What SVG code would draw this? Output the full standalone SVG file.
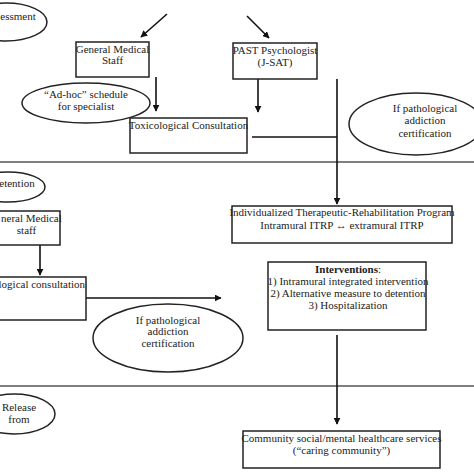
<svg xmlns="http://www.w3.org/2000/svg" width="474" height="474" viewBox="0 0 474 474">
<style>
text{font-family:"Liberation Serif","Times New Roman",serif;font-size:11px;fill:#222;text-anchor:middle}
.box{fill:#fff;stroke:#222;stroke-width:1.5}
.ell{fill:#fff;stroke:#222;stroke-width:1.5}
.ln{fill:none;stroke:#111;stroke-width:1.6}
.sep{fill:none;stroke:#555;stroke-width:1.6}
</style>
<defs>
<marker id="ah" viewBox="0 0 10 10" refX="9" refY="5" markerWidth="7" markerHeight="7" markerUnits="userSpaceOnUse" orient="auto">
<path d="M0,0 L10,5 L0,10 z" fill="#111"/>
</marker>
</defs>
<rect width="474" height="474" fill="#fff"/>
<g id="separators">
<line class="sep" x1="0" y1="162" x2="474" y2="162"/>
<line class="sep" x1="0" y1="386" x2="474" y2="386"/>
</g>
<g id="connectors">
<line class="ln" x1="167" y1="14" x2="141" y2="37" marker-end="url(#ah)"/>
<line class="ln" x1="247" y1="16" x2="269" y2="38" marker-end="url(#ah)"/>
<line class="ln" x1="156" y1="77" x2="156" y2="111" marker-end="url(#ah)"/>
<line class="ln" x1="258" y1="79" x2="258" y2="112" marker-end="url(#ah)"/>
<line class="ln" x1="252" y1="137" x2="337" y2="137"/>
<line class="ln" x1="337" y1="79" x2="337" y2="204" marker-end="url(#ah)"/>
<line class="ln" x1="40" y1="245" x2="40" y2="275" marker-end="url(#ah)"/>
<line class="ln" x1="86" y1="298" x2="221" y2="298" marker-end="url(#ah)"/>
<line class="ln" x1="337" y1="335" x2="337" y2="424" marker-end="url(#ah)"/>
</g>
<g id="assessment">
<ellipse class="ell" cx="6" cy="22" rx="41" ry="19"/>
<text x="18" y="20">essment</text>
</g>
<g id="gms-top">
<rect class="box" x="76" y="42" width="73" height="35"/>
<text x="112.5" y="53">General Medical</text>
<text x="112.5" y="64">Staff</text>
</g>
<g id="past">
<rect class="box" x="233" y="43" width="84" height="36"/>
<text x="275" y="54">PAST Psychologist</text>
<text x="275" y="66">(J-SAT)</text>
</g>
<g id="adhoc">
<ellipse class="ell" cx="86" cy="103" rx="64" ry="20"/>
<text x="86" y="98">“Ad-hoc” schedule</text>
<text x="86" y="110">for specialist</text>
</g>
<g id="tox-top">
<rect class="box" x="130" y="118" width="117" height="35"/>
<text x="188.5" y="129">Toxicological Consultation</text>
</g>
<g id="cert-top">
<ellipse class="ell" cx="416" cy="124" rx="67" ry="31"/>
<text x="425" y="112">If pathological</text>
<text x="425" y="124">addiction</text>
<text x="425" y="137">certification</text>
</g>
<g id="detention">
<ellipse class="ell" cx="8" cy="187" rx="37" ry="15"/>
<text x="17" y="187">etention</text>
</g>
<g id="gms-mid">
<rect class="box" x="-6" y="211" width="66" height="34"/>
<text x="1" y="222" style="text-anchor:start">neral Medical</text>
<text x="26.5" y="234">staff</text>
</g>
<g id="tox-mid">
<rect class="box" x="-40" y="277" width="126" height="43"/>
<text x="85" y="288" style="text-anchor:end">logical consultation</text>
</g>
<g id="cert-mid">
<ellipse class="ell" cx="168" cy="338" rx="75" ry="34"/>
<text x="168" y="324">If pathological</text>
<text x="168" y="335">addiction</text>
<text x="168" y="347">certification</text>
</g>
<g id="itrp">
<rect class="box" x="232" y="206" width="220" height="37"/>
<text x="342" y="216">Individualized Therapeutic-Rehabilitation Program</text>
<text x="342" y="229">Intramural ITRP ↔ extramural ITRP</text>
</g>
<g id="interventions">
<rect class="box" x="268" y="262" width="158" height="68"/>
<text x="348" y="273"><tspan font-weight="bold">Interventions</tspan>:</text>
<text x="348" y="285">1) Intramural integrated intervention</text>
<text x="348" y="297">2) Alternative measure to detention</text>
<text x="348" y="309">3) Hospitalization</text>
</g>
<g id="release">
<ellipse class="ell" cx="14" cy="414" rx="41" ry="20"/>
<text x="19" y="411">Release</text>
<text x="19" y="423">from</text>
</g>
<g id="community">
<rect class="box" x="243" y="431" width="197" height="37"/>
<text x="341.5" y="442">Community social/mental healthcare services</text>
<text x="341.5" y="454">(“caring community”)</text>
</g>
</svg>
